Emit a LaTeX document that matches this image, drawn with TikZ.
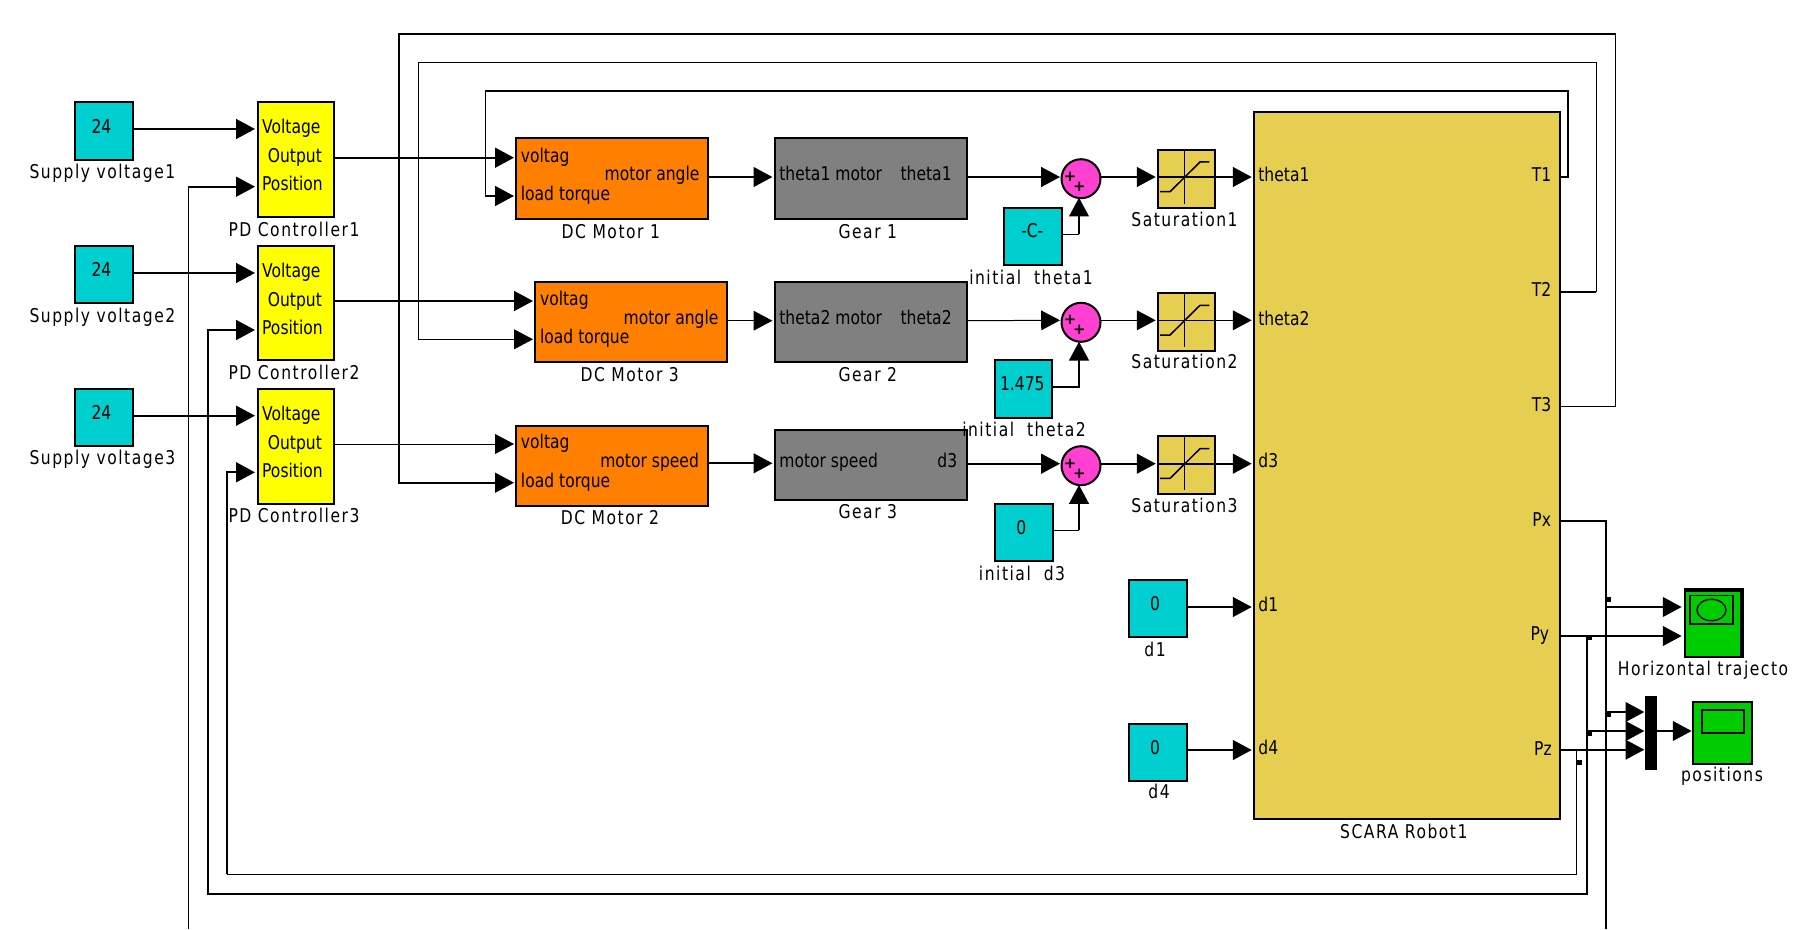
\documentclass[tikz,border=0pt]{standalone}
\usepackage{fontspec}
\usetikzlibrary{arrows.meta}
\setmainfont{DejaVu Sans}
\newfontfamily\portfont[FakeStretch=0.82]{DejaVu Sans}
\newfontfamily\lblfont[FakeStretch=0.82,LetterSpace=8]{DejaVu Sans}
\definecolor{constc}{RGB}{0,207,208}
\definecolor{pdc}{RGB}{255,255,0}
\definecolor{motorc}{RGB}{255,128,0}
\definecolor{gearc}{RGB}{128,128,128}
\definecolor{sumc}{RGB}{255,64,208}
\definecolor{robotc}{RGB}{230,207,80}
\definecolor{scopec}{RGB}{0,205,0}
\tikzset{
  blockbox/.style={draw=black,line width=1.138pt,inner sep=0pt,outer sep=0pt,rectangle},
  constbox/.style={blockbox,fill=constc},
  pdbox/.style={blockbox,fill=pdc},
  motorbox/.style={blockbox,fill=motorc},
  gearbox/.style={blockbox,fill=gearc},
  robotbox/.style={blockbox,fill=robotc},
  scopebox/.style={blockbox,fill=scopec},
  screenbox/.style={blockbox,fill=scopec,line width=0.8pt},
  muxbox/.style={rectangle,fill=black,inner sep=0pt,outer sep=0pt},
  dotbox/.style={rectangle,fill=black,inner sep=0pt,outer sep=0pt,minimum width=2.85pt,minimum height=2.85pt},
  sumnode/.style={circle,draw=black,line width=1.138pt,fill=sumc,inner sep=0pt,outer sep=0pt,minimum size=22.2pt},
  tk/.style={line width=1.138pt,line join=miter},
  tn/.style={line width=0.569pt,line join=miter},
  tip/.style={-{Triangle[length=10.7pt,width=11.2pt]}},
  lbl/.style={font=\lblfont\fontsize{10.8pt}{12pt}\selectfont,anchor=base,inner sep=0pt},
  val/.style={font=\portfont\fontsize{10.8pt}{12pt}\selectfont,anchor=base,inner sep=0pt},
  pw/.style={font=\portfont\fontsize{10.8pt}{12pt}\selectfont,anchor=base west,inner sep=0pt},
  pe/.style={font=\portfont\fontsize{10.8pt}{12pt}\selectfont,anchor=base east,inner sep=0pt},
  plusmark/.style={font=\fontsize{8.5pt}{9pt}\selectfont\bfseries,inner sep=0pt},
}
\newlength{\onepx}\setlength{\onepx}{0.02cm}
\newcommand{\blk}[6]{\node[#6,minimum width={(#4-#2)*\onepx},minimum height={(#5-#3)*\onepx}] (#1) at ({(#2+#4)/2},{(#3+#5)/2}) {};}
\newcommand{\satbox}[3]{%
  \blk{#1}{1157.7}{#2}{1215.3}{#2+58}{robotbox}
  \draw[line width=#3] (1158,#2+27.3) -- (1212,#2+27.3);
  \draw[line width=0.569pt] (1184.3,#2+1) -- (1184.3,#2+54);
  \draw[line width=0.854pt] (1160,#2+42) -- (1170,#2+42) -- (1200,#2+12.3) -- (1209.3,#2+12.3);
}
\begin{document}
\begin{tikzpicture}[x=0.02cm,y=-0.02cm,every node/.append style={text=black}]
\useasboundingbox (0,0) rectangle (1807,929);
% blocks
\blk{c1}{75.4}{102}{133}{160}{constbox}
\blk{c2}{75.4}{246}{133}{303}{constbox}
\blk{c3}{75.4}{388.5}{133}{445.5}{constbox}
\blk{pd1}{257.5}{102}{334}{217}{pdbox}
\blk{pd2}{257.5}{246}{334}{360}{pdbox}
\blk{pd3}{257.5}{388.7}{334}{504}{pdbox}
\blk{m1}{516}{138.3}{708}{219}{motorbox}
\blk{m3}{534.8}{281.7}{727}{362.3}{motorbox}
\blk{m2}{515.6}{425.7}{708}{506}{motorbox}
\blk{g1}{775}{138.3}{966.5}{219.3}{gearbox}
\blk{g2}{775}{281.7}{966.5}{362.3}{gearbox}
\blk{g3}{775}{430.3}{966.5}{500}{gearbox}
\node[sumnode] (s1) at (1081,178.7) {};
\node[sumnode] (s2) at (1081,322.3) {};
\node[sumnode] (s3) at (1081,465.7) {};
\blk{it1}{1004.3}{207.7}{1062}{265}{constbox}
\blk{it2}{994.7}{360.3}{1052.3}{418}{constbox}
\blk{id3}{994.7}{504}{1052.7}{561}{constbox}
\blk{d1}{1128.7}{580}{1186.7}{637.3}{constbox}
\blk{d4}{1128.7}{723.7}{1186.7}{780.7}{constbox}
\blk{rob}{1253.7}{112}{1560}{819}{robotbox}
\satbox{sat1}{149.7}{1.138pt}
\satbox{sat2}{293}{0.569pt}
\satbox{sat3}{436.4}{1.138pt}
\blk{scope1}{1684.5}{589.3}{1742.7}{657.3}{scopebox}
\blk{scr1}{1689.8}{595.7}{1733}{624}{screenbox}
\blk{scope2}{1693.3}{702.3}{1751.6}{764.3}{scopebox}
\blk{scr2}{1701.9}{710}{1744}{733}{screenbox}
\blk{mux}{1645}{696}{1657}{769.7}{muxbox}
\draw[line width=2.28pt] (1684.5,590.3) -- (1741.7,590.3) -- (1741.7,657.3);
\draw[line width=0.8pt] (1711.5,610) ellipse [x radius=14.5,y radius=10.7];
% ports
\foreach \n/\x/\y in {c1o/133/129, c2o/133/273, c3o/133/415.7,
  pd1v/255/129, pd1p/255/186.7, pd1o/334/157.7,
  pd2v/255/273, pd2p/255/330, pd2o/334/301,
  pd3v/255/415.7, pd3p/255/472.3, pd3o/334/444,
  m1v/514/157.7, m1l/514/196, m1o/708/177,
  m3v/533/301, m3l/533/339.3, m3o/727/320.7,
  m2v/514/444, m2l/514/482.7, m2o/708/463.3,
  g1i/772.4/177, g2i/772.4/320.7, g3i/772.4/463.3,
  g1o/966.5/177, g2o/966.5/320.7, g3o/966.5/463.7,
  s1i/1060/177, s2i/1060/320.3, s3i/1060/463.7,
  s1b/1079/197.7, s2b/1079/341.7, s3b/1079/485,
  s1o/1100/177, s2o/1100/320.3, s3o/1100/463.7,
  sat1i/1155.7/177, sat2i/1155.7/320.3, sat3i/1155.7/463.7,
  sat1o/1212/177, sat2o/1212/320.3, sat3o/1212/463.7,
  rt1/1251.7/177, rt2/1251.7/320.3, rd3/1251.7/463.7, rd1/1251.7/607, rd4/1251.7/750,
  it1o/1062/234.3, it2o/1052.3/387, id3o/1052.7/530.3, d1o/1186.7/607, d4o/1186.7/750,
  T1/1560/176.7, T2/1560/292, T3/1560/406.3, Px/1560/520.7, Py/1560/636, Pz/1560/749.7,
  sc1a/1681.6/607, sc1b/1681.6/636, mxa/1644.3/712, mxb/1644.3/731, mxc/1644.3/749.7,
  mxo/1657/731, sc2i/1691.6/731} {\coordinate (\n) at (\x,\y);}
\coordinate (bl1) at (188.3,929);
\coordinate (br1) at (1606,929);
% T loops
\draw[tk] (T1) -- (1567.7,176.7) -- (1567.7,91) -- (485.3,91);
\draw[tn] (485.3,91) -- (485.3,196);
\draw[tk,tip] (485.3,196) -- (m1l);
\draw[tk] (T2) -- (1596.3,292);
\draw[tn,tip] (1596.3,292) -- (1596.3,62.3) -- (418.3,62.3) -- (418.3,339.3) -- (m3l);
\draw[tn] (T3) -- (1615.7,406.3) -- (1615.7,34);
\draw[tk,tip] (1615.7,34) -- (398.8,34) -- (398.8,482.7) -- (m2l);
% inputs
\draw[tk,tip] (c1o) -- (pd1v);
\draw[tk,tip] (c2o) -- (pd2v);
\draw[tk,tip] (c3o) -- (pd3v);
\draw[tk,tip] (pd1o) -- (m1v);
\draw[tk,tip] (pd2o) -- (m3v);
\draw[tn,tip] (pd3o) -- (m2v);
\draw[tk,tip] (m1o) -- (g1i);
\draw[tn,tip] (m3o) -- (g2i);
\draw[tk,tip] (m2o) -- (g3i);
\draw[tk,tip] (g1o) -- (s1i);
\draw[tn,tip] (g2o) -- (s2i);
\draw[tk,tip] (g3o) -- (s3i);
\draw[tk,tip] (s1o) -- (sat1i);
\draw[tn,tip] (s2o) -- (sat2i);
\draw[tk,tip] (s3o) -- (sat3i);
\draw[tk,tip] (sat1o) -- (rt1);
\draw[tn,tip] (sat2o) -- (rt2);
\draw[tk,tip] (sat3o) -- (rd3);
\draw[tn] (it1o) -- (1079,234.3);
\draw[tk,tip] (1079,234.3) -- (s1b);
\draw[tk,tip] (it2o) -- (1079,387) -- (s2b);
\draw[tn] (id3o) -- (1079,530.3);
\draw[tk,tip] (1079,530.3) -- (s3b);
\draw[tk,tip] (d1o) -- (rd1);
\draw[tk,tip] (d4o) -- (rd4);
% outputs
\draw[tk] (Px) -- (1606,520.7) -- (br1);
\draw[tn] (bl1) -- (188.3,186.7);
\draw[tk,tip] (188.3,186.7) -- (pd1p);
\draw[tk,tip] (1606,607) -- (sc1a);
\draw[tk,tip] (Py) -- (sc1b);
\draw[tk,tip] (1586.8,636) -- (1586.8,893.7) -- (208,893.7) -- (208,330) -- (pd2p);
\draw[tk,tip] (Pz) -- (mxc);
\draw[tn] (1576.8,749.7) -- (1576.8,874.3) -- (226.7,874.3);
\draw[tk,tip] (226.7,874.3) -- (226.7,472.3) -- (pd3p);
\draw[tk,tip] (1606,712) -- (mxa);
\draw[tk,tip] (1586.8,731) -- (mxb);
\draw[tk,tip] (mxo) -- (sc2i);
% small junction marks
\node[dotbox] (j1) at (1608.4,599.3) {};
\node[dotbox] (j2) at (1589.6,637.7) {};
\node[dotbox] (j3) at (1608.4,714.3) {};
\node[dotbox] (j4) at (1589.6,733.3) {};
\node[dotbox] (j5) at (1579.7,762) {};
% plus marks
\node[plusmark] (p1a) at (1070,177.3) {+};
\node[plusmark] (p1b) at (1079.3,187.3) {+};
\node[plusmark] (p2a) at (1070,320.3) {+};
\node[plusmark] (p2b) at (1079.3,330.3) {+};
\node[plusmark] (p3a) at (1070,463.7) {+};
\node[plusmark] (p3b) at (1079.3,473.7) {+};
% block values
\node[val] (v1) at (101.4,133.3) {24};
\node[val] (v2) at (101.4,276.7) {24};
\node[val] (v3) at (101.4,419.7) {24};
\node[val] (v4) at (1032.3,237.3) {-C-};
\node[val] (v5) at (1022.3,390.7) {1.475};
\node[val] (v6) at (1021.3,534) {0};
\node[val] (v7) at (1155,610) {0};
\node[val] (v8) at (1155,754) {0};
% block names
\node[lbl] (n1) at (102.4,178) {Supply voltage1};
\node[lbl] (n2) at (102.4,322) {Supply voltage2};
\node[lbl] (n3) at (102.4,464.5) {Supply voltage3};
\node[lbl] (n4) at (294,236) {PD Controller1};
\node[lbl] (n5) at (294,379.3) {PD Controller2};
\node[lbl] (n6) at (294,522.3) {PD Controller3};
\node[lbl] (n7) at (610.8,238) {DC Motor 1};
\node[lbl] (n8) at (629.7,381) {DC Motor 3};
\node[lbl] (n9) at (610,524.3) {DC Motor 2};
\node[lbl] (n10) at (867.8,238.3) {Gear 1};
\node[lbl] (n11) at (867.8,381) {Gear 2};
\node[lbl] (n12) at (867.8,518) {Gear 3};
\node[lbl] (n13) at (1031,284) {initial\ \ theta1};
\node[lbl] (n14) at (1024,436) {initial\ \ theta2};
\node[lbl] (n15) at (1022,580) {initial\ \ d3};
\node[lbl] (n16) at (1184.5,226) {Saturation1};
\node[lbl] (n17) at (1184.5,368.7) {Saturation2};
\node[lbl] (n18) at (1184.5,512.7) {Saturation3};
\node[lbl] (n19) at (1155,656) {d1};
\node[lbl] (n20) at (1159,798) {d4};
\node[lbl] (n21) at (1403.8,838) {SCARA Robot1};
\node[lbl] (n22) at (1703,675) {Horizontal trajecto};
\node[lbl] (n23) at (1722,781.7) {positions};
% port labels
\foreach \o/\i in {0/a,144/b,286.7/c}{
  \node[pw] (pv\i) at (261.8,133.3+\o) {Voltage};
  \node[pw] (po\i) at (267.5,162.7+\o) {Output};
  \node[pw] (pp\i) at (261.8,190.7+\o) {Position};
}
\node[pw] (q1) at (520.5,162.7) {voltag};
\node[pw] (q2) at (520.5,200) {load torque};
\node[pe] (q3) at (699.8,181) {motor angle};
\node[pw] (q4) at (539.7,305.3) {voltag};
\node[pw] (q5) at (539.7,343) {load torque};
\node[pe] (q6) at (718.8,324) {motor angle};
\node[pw] (q7) at (520.6,448.7) {voltag};
\node[pw] (q8) at (520.6,487.3) {load torque};
\node[pe] (q9) at (699.3,467.3) {motor speed};
\node[pw] (q10) at (779,181) {theta1 motor};
\node[pe] (q11) at (952,181) {theta1};
\node[pw] (q12) at (779,324.3) {theta2 motor};
\node[pe] (q13) at (952,324.3) {theta2};
\node[pw] (q14) at (779,467.3) {motor speed};
\node[pe] (q15) at (957.6,467.3) {d3};
\node[pw] (q16) at (1258,182) {theta1};
\node[pw] (q17) at (1258,325) {theta2};
\node[pw] (q18) at (1258,467.7) {d3};
\node[pw] (q19) at (1258,611) {d1};
\node[pw] (q20) at (1258,754) {d4};
\node[pe] (q21) at (1551.7,182) {T1};
\node[pe] (q22) at (1551.7,296) {T2};
\node[pe] (q23) at (1551.7,411) {T3};
\node[pe] (q24) at (1551.3,526) {Px};
\node[pe] (q25) at (1549.5,640) {Py};
\node[pe] (q26) at (1552,755) {Pz};
\end{tikzpicture}
\end{document}
